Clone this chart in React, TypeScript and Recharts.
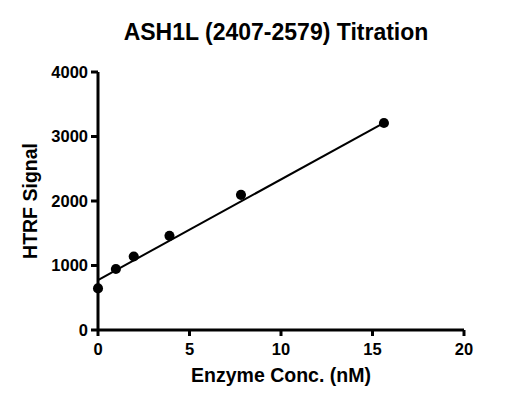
import React from 'react';
import { ComposedChart, Scatter, Line, XAxis, YAxis, ZAxis, Label } from 'recharts';

const concentrations = [0, 0.977, 1.953, 3.906, 7.813, 15.625];
const signals = [645, 945, 1140, 1460, 2095, 3210];
const fitX = [0, 15.625];
const fitY = [775, 3212];
const xTicks = [0, 5, 10, 15, 20];
const yTicks = [0, 1000, 2000, 3000, 4000];

const points = concentrations.map((x, i) => ({ x, y: signals[i] }));
const fitLine = fitX.map((x, i) => ({ x, y: fitY[i] }));

const FONT = '"Liberation Sans", Arial, sans-serif';
const tickStyle = { fill: '#000', fontSize: 16.5, fontWeight: 700, fontFamily: FONT };
const axisStroke = { stroke: '#000', strokeWidth: 3 };

export default function App() {
  return (
    <div style={{ position: 'absolute', left: 0, top: 0, width: 521, height: 408, background: '#fff' }}>
      <div
        style={{
          position: 'absolute',
          left: 0,
          top: 21,
          width: 552,
          textAlign: 'center',
          fontFamily: FONT,
          fontWeight: 700,
          fontSize: 23,
          lineHeight: '23px',
          color: '#000',
        }}
      >
        ASH1L (2407-2579) Titration
      </div>
      <ComposedChart width={521} height={408} margin={{ top: 72, right: 57, left: 20, bottom: 20 }}>
        <XAxis
          type="number"
          dataKey="x"
          domain={[0, 20]}
          ticks={xTicks}
          height={58}
          axisLine={axisStroke}
          tickSize={6}
          tickMargin={7}
          tick={tickStyle}
          tickLine={axisStroke}
        >
          <Label
            value="Enzyme Conc. (nM)"
            position="insideBottom"
            offset={6}
            style={{ fill: '#000', fontSize: 19.5, fontWeight: 700, fontFamily: FONT }}
          />
        </XAxis>
        <YAxis
          type="number"
          dataKey="y"
          domain={[0, 4000]}
          ticks={yTicks}
          width={78}
          axisLine={axisStroke}
          tickSize={7}
          tickMargin={3}
          tick={tickStyle}
          tickLine={axisStroke}
        >
          <Label
            value="HTRF Signal"
            angle={-90}
            position="insideLeft"
            offset={10}
            style={{ fill: '#000', fontSize: 19.5, fontWeight: 700, fontFamily: FONT, textAnchor: 'middle' }}
          />
        </YAxis>
        <ZAxis range={[80, 80]} />
        <Line
          data={fitLine}
          dataKey="y"
          type="linear"
          stroke="#000"
          strokeWidth={2}
          dot={false}
          activeDot={false}
          isAnimationActive={false}
        />
        <Scatter data={points} dataKey="y" fill="#000" isAnimationActive={false} />
      </ComposedChart>
    </div>
  );
}
